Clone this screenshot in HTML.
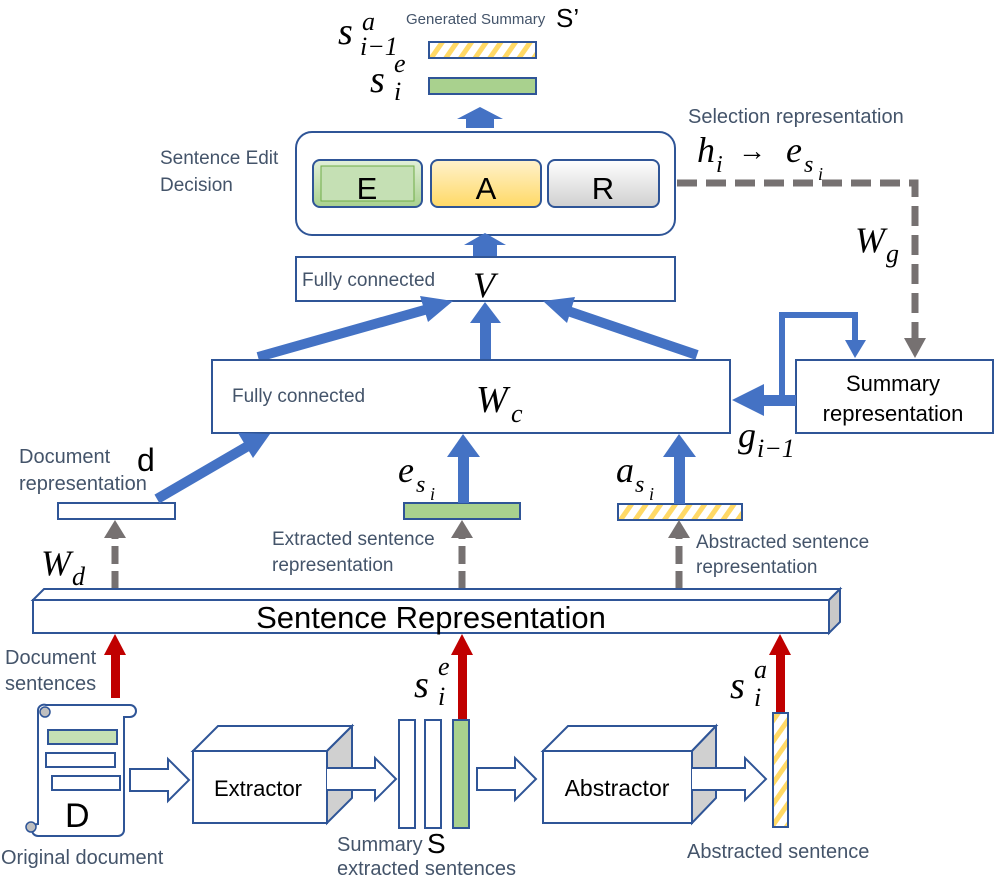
<!DOCTYPE html>
<html><head><meta charset="utf-8"><style>
html,body{margin:0;padding:0;background:#fff}
svg{display:block}
.l{font-family:"Liberation Sans",sans-serif;fill:#44546A}
.k{font-family:"Liberation Sans",sans-serif;fill:#000}
.m{font-family:"Liberation Serif",serif;font-style:italic;fill:#000}
</style></head><body>
<svg width="997" height="878" viewBox="0 0 997 878" xmlns="http://www.w3.org/2000/svg">
<defs>
<pattern id="h" width="12" height="12" patternUnits="userSpaceOnUse" patternTransform="rotate(35)">
<rect width="12" height="12" fill="#fff"/><rect width="5" height="12" fill="#FFD966"/></pattern>
<linearGradient id="gE" x1="0" y1="0" x2="0" y2="1"><stop offset="0" stop-color="#E2F0D9"/><stop offset="1" stop-color="#A9D18E"/></linearGradient>
<linearGradient id="gA" x1="0" y1="0" x2="0" y2="1"><stop offset="0" stop-color="#FFF2CC"/><stop offset="1" stop-color="#FFD966"/></linearGradient>
<linearGradient id="gR" x1="0" y1="0" x2="0" y2="1"><stop offset="0" stop-color="#fff"/><stop offset="1" stop-color="#D0D0D0"/></linearGradient>
</defs>

<!-- top outputs -->
<text class="l" x="406" y="24" font-size="15">Generated Summary</text>
<text class="k" x="556" y="27" font-size="26">S’</text>
<text class="m" x="338" y="44" font-size="38">s</text>
<text class="m" x="362" y="30" font-size="26">a</text>
<text class="m" x="360" y="55" font-size="26">i−1</text>
<text class="m" x="370" y="92" font-size="38">s</text>
<text class="m" x="394" y="72" font-size="26">e</text>
<text class="m" x="394" y="100" font-size="26">i</text>
<rect x="429" y="42" width="107" height="16" fill="url(#h)" stroke="#2F5597" stroke-width="2"/>
<rect x="429" y="78" width="107" height="16" fill="#A9D18E" stroke="#2F5597" stroke-width="2"/>
<polygon points="466,128 494,128 494,119 503,119 480,107 457,119 466,119" fill="#4472C4"/>

<!-- decision box -->
<text class="l" x="160" y="164" font-size="19">Sentence Edit</text>
<text class="l" x="160" y="191" font-size="19">Decision</text>
<rect x="296" y="132" width="379" height="103" rx="16" fill="#fff" stroke="#2F5597" stroke-width="2"/>
<rect x="313" y="160" width="109" height="47" rx="7" fill="url(#gE)" stroke="#2F5597" stroke-width="2"/>
<rect x="321" y="166" width="93" height="35" fill="#C5E0B4" stroke="#70AD47" stroke-width="1"/>
<rect x="431" y="160" width="110" height="47" rx="7" fill="url(#gA)" stroke="#2F5597" stroke-width="2"/>
<rect x="548" y="160" width="111" height="47" rx="7" fill="url(#gR)" stroke="#2F5597" stroke-width="2"/>
<text class="k" x="367" y="199" font-size="31" text-anchor="middle">E</text>
<text class="k" x="486" y="199" font-size="31" text-anchor="middle">A</text>
<text class="k" x="603" y="199" font-size="31" text-anchor="middle">R</text>
<polygon points="473,257 497,257 497,245 506,245 485,233 464,245 473,245" fill="#4472C4"/>

<!-- selection -->
<text class="l" x="688" y="123" font-size="20">Selection representation</text>
<text class="m" x="697" y="162" font-size="36">h</text>
<text class="m" x="716" y="172" font-size="24">i</text>
<text class="k" x="738" y="160" font-size="28">→</text>
<text class="m" x="786" y="162" font-size="36">e</text>
<text class="m" x="804" y="172" font-size="24">s</text>
<text class="m" x="818" y="180" font-size="18">i</text>
<path d="M677,183 H915 V340" fill="none" stroke="#767171" stroke-width="7" stroke-dasharray="20,9"/>
<polygon points="904,338 926,338 915,358" fill="#767171"/>
<text class="m" x="855" y="252" font-size="36">W</text>
<text class="m" x="886" y="262" font-size="26">g</text>

<!-- V box -->
<rect x="296" y="257" width="379" height="44" fill="#fff" stroke="#2F5597" stroke-width="2"/>
<text class="l" x="302" y="286" font-size="19">Fully connected</text>
<text class="m" x="473" y="297" font-size="36">V</text>

<!-- arrows to V -->
<line x1="258" y1="357" x2="428" y2="309" stroke="#4472C4" stroke-width="10"/>
<polygon points="453,301 420,296 428,322" fill="#4472C4"/>
<rect x="480" y="322" width="11" height="38" fill="#4472C4"/>
<polygon points="470,323 501,323 485,302" fill="#4472C4"/>
<line x1="697" y1="355" x2="565" y2="310" stroke="#4472C4" stroke-width="10"/>
<polygon points="543,301 575,297 567,323" fill="#4472C4"/>

<!-- Wc box -->
<rect x="212" y="360" width="518" height="73" fill="#fff" stroke="#2F5597" stroke-width="2"/>
<text class="l" x="232" y="402" font-size="19">Fully connected</text>
<text class="m" x="476" y="412" font-size="38">W</text>
<text class="m" x="511" y="422" font-size="26">c</text>

<!-- summary representation -->
<rect x="796" y="360" width="197" height="73" fill="#fff" stroke="#2F5597" stroke-width="2"/>
<text class="k" x="893" y="391" font-size="22" text-anchor="middle">Summary</text>
<text class="k" x="893" y="421" font-size="22" text-anchor="middle">representation</text>
<rect x="762" y="395" width="34" height="11" fill="#4472C4"/>
<polygon points="732,400 764,384 764,416" fill="#4472C4"/>
<path d="M782,400 V315 H855 V342" fill="none" stroke="#4472C4" stroke-width="6"/>
<polygon points="845,340 866,340 855,358" fill="#4472C4"/>
<text class="m" x="738" y="447" font-size="36">g</text>
<text class="m" x="757" y="457" font-size="26">i−1</text>

<!-- document rep -->
<text class="l" x="19" y="463" font-size="20">Document</text>
<text class="l" x="19" y="490" font-size="20">representation</text>
<text class="k" x="137" y="471" font-size="32">d</text>
<rect x="58" y="503" width="117" height="16" fill="#fff" stroke="#2F5597" stroke-width="2"/>
<line x1="157" y1="499" x2="248" y2="446" stroke="#4472C4" stroke-width="10"/>
<polygon points="270,434 238,433 253,458" fill="#4472C4"/>

<!-- e bar -->
<text class="m" x="398" y="482" font-size="36">e</text>
<text class="m" x="416" y="492" font-size="24">s</text>
<text class="m" x="430" y="500" font-size="18">i</text>
<rect x="404" y="503" width="116" height="16" fill="#A9D18E" stroke="#2F5597" stroke-width="2"/>
<rect x="458" y="455" width="11" height="48" fill="#4472C4"/>
<polygon points="447,457 480,457 463,434" fill="#4472C4"/>
<!-- a bar -->
<text class="m" x="616" y="482" font-size="36">a</text>
<text class="m" x="635" y="492" font-size="24">s</text>
<text class="m" x="649" y="500" font-size="18">i</text>
<rect x="618" y="504" width="124" height="16" fill="url(#h)" stroke="#2F5597" stroke-width="2"/>
<rect x="674" y="455" width="11" height="49" fill="#4472C4"/>
<polygon points="663,457 696,457 679,434" fill="#4472C4"/>

<!-- gray dashed arrows -->
<g stroke="#767171" stroke-width="7" stroke-dasharray="18,7">
<line x1="115" y1="589" x2="115" y2="536"/>
<line x1="462" y1="589" x2="462" y2="536"/>
<line x1="679" y1="589" x2="679" y2="536"/>
</g>
<g fill="#767171">
<polygon points="104,538 126,538 115,520"/>
<polygon points="451,538 473,538 462,520"/>
<polygon points="668,538 690,538 679,520"/>
</g>
<text class="m" x="41" y="575" font-size="36">W</text>
<text class="m" x="72" y="585" font-size="26">d</text>
<text class="l" x="272" y="545" font-size="19">Extracted sentence</text>
<text class="l" x="272" y="571" font-size="19">representation</text>
<text class="l" x="696" y="548" font-size="19">Abstracted sentence</text>
<text class="l" x="696" y="573" font-size="19">representation</text>

<!-- sentence representation bar -->
<polygon points="33,600 44,589 840,589 829,600" fill="#fff" stroke="#2F5597" stroke-width="2"/>
<polygon points="829,600 840,589 840,622 829,633" fill="#C8C8C8" stroke="#2F5597" stroke-width="2"/>
<rect x="33" y="600" width="796" height="33" fill="#fff" stroke="#2F5597" stroke-width="2"/>
<text class="k" x="431" y="628" font-size="31" text-anchor="middle">Sentence Representation</text>

<!-- red arrows -->
<g fill="#C00000">
<rect x="111" y="652" width="9" height="46"/><polygon points="104,655 126,655 115,634"/>
<rect x="458" y="652" width="9" height="68"/><polygon points="451,655 473,655 462,634"/>
<rect x="776" y="652" width="9" height="61"/><polygon points="769,655 791,655 780,634"/>
</g>
<text class="l" x="5" y="664" font-size="20">Document</text>
<text class="l" x="5" y="690" font-size="20">sentences</text>
<text class="m" x="414" y="697" font-size="38">s</text>
<text class="m" x="438" y="675" font-size="26">e</text>
<text class="m" x="438" y="705" font-size="26">i</text>
<text class="m" x="730" y="698" font-size="38">s</text>
<text class="m" x="754" y="678" font-size="26">a</text>
<text class="m" x="754" y="706" font-size="26">i</text>

<!-- scroll -->
<path d="M46,705 H130 A6,6 0 0 1 130,717 H124 V830 A6,6 0 0 1 118,836 H38 A6,6 0 0 1 38,824 V711 A6,6 0 0 1 46,705 Z" fill="#fff" stroke="#2F5597" stroke-width="2"/>
<circle cx="45" cy="712" r="5" fill="#BFBFBF" stroke="#2F5597" stroke-width="1.5"/>
<circle cx="31" cy="827" r="5" fill="#BFBFBF" stroke="#2F5597" stroke-width="1.5"/>
<rect x="48" y="730" width="69" height="14" fill="#C5E0B4" stroke="#2F5597" stroke-width="2"/>
<rect x="46" y="753" width="69" height="14" fill="#fff" stroke="#2F5597" stroke-width="2"/>
<rect x="52" y="776" width="68" height="14" fill="#fff" stroke="#2F5597" stroke-width="2"/>
<text class="k" x="65" y="827" font-size="34">D</text>
<text class="l" x="1" y="864" font-size="20">Original document</text>

<!-- hollow arrows -->
<g fill="#fff" stroke="#2F5597" stroke-width="2">
<polygon points="130,769 168,769 168,759 189,780 168,801 168,791 130,791"/>
<polygon points="477,768 515,768 515,758 536,779 515,800 515,790 477,790"/>
</g>

<!-- extractor -->
<polygon points="193,751 218,726 352,726 327,751" fill="#fff" stroke="#2F5597" stroke-width="2"/>
<polygon points="327,751 352,726 352,798 327,823" fill="#D0D0D0" stroke="#2F5597" stroke-width="2"/>
<rect x="193" y="751" width="134" height="72" fill="#fff" stroke="#2F5597" stroke-width="2"/>
<text class="k" x="258" y="796" font-size="22" text-anchor="middle">Extractor</text>
<path d="M327,768 H375 V758 L396,779 L375,800 V790 H327" fill="#fff" stroke="#2F5597" stroke-width="2"/>

<!-- extracted bars -->
<rect x="399" y="720" width="16" height="108" fill="#fff" stroke="#2F5597" stroke-width="2"/>
<rect x="425" y="720" width="16" height="108" fill="#fff" stroke="#2F5597" stroke-width="2"/>
<rect x="453" y="720" width="16" height="108" fill="#A9D18E" stroke="#2F5597" stroke-width="2"/>
<text class="l" x="337" y="851" font-size="20">Summary</text>
<text class="k" x="427" y="853" font-size="28">S</text>
<text class="l" x="337" y="875" font-size="20">extracted sentences</text>

<!-- abstractor -->
<polygon points="543,751 568,726 716,726 692,751" fill="#fff" stroke="#2F5597" stroke-width="2"/>
<polygon points="692,751 716,726 716,798 692,823" fill="#D0D0D0" stroke="#2F5597" stroke-width="2"/>
<rect x="543" y="751" width="149" height="72" fill="#fff" stroke="#2F5597" stroke-width="2"/>
<text class="k" x="617" y="796" font-size="23" text-anchor="middle">Abstractor</text>
<path d="M692,768 H745 V758 L766,779 L745,800 V790 H692" fill="#fff" stroke="#2F5597" stroke-width="2"/>
<rect x="773" y="713" width="15" height="114" fill="url(#h)" stroke="#2F5597" stroke-width="2"/>
<text class="l" x="687" y="858" font-size="20">Abstracted sentence</text>
</svg>
</body></html>
